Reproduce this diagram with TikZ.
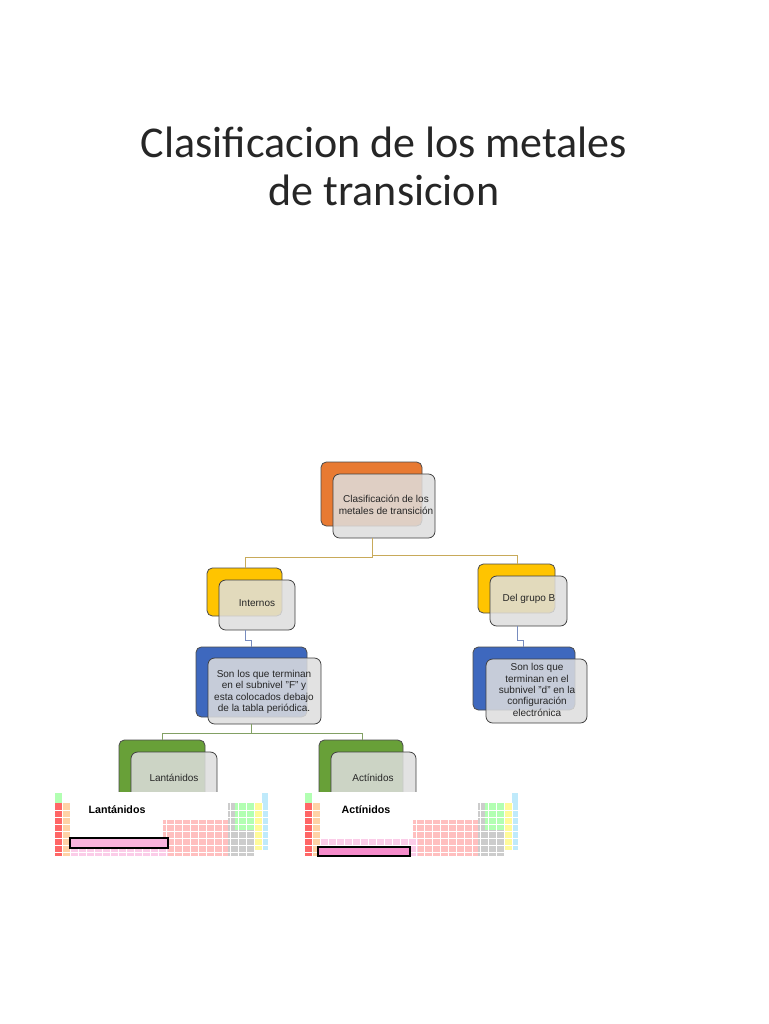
\documentclass[tikz,border=0pt]{standalone}
\usepackage{fontspec}
\setmainfont{Liberation Sans}
\newfontfamily\titlefont{Carlito}
\begin{document}
\begin{tikzpicture}[x=0.75pt,y=-0.75pt]
\definecolor{corange}{RGB}{232,122,50}
\definecolor{cyellow}{RGB}{255,196,0}
\definecolor{cblue}{RGB}{62,104,190}
\definecolor{cgreen}{RGB}{104,160,56}
\definecolor{cfront}{RGB}{222,222,222}
\definecolor{lgold}{RGB}{200,170,90}
\definecolor{lblue}{RGB}{120,140,190}
\definecolor{lgreen}{RGB}{130,160,100}
\tikzset{
 back/.style={rounded corners=4pt,draw=black!70,line width=0.6pt},
 front/.style={rounded corners=5pt,draw=black!75,line width=0.6pt,fill=cfront,fill opacity=0.85,text opacity=1},
 lbl/.style={font=\fontsize{7.5}{8.5}\selectfont,align=center,text=black!85},
 conn/.style={line width=0.7pt}
}
\useasboundingbox[fill=white] (0,0) rectangle (768,1024);
\node[font=\titlefont\fontsize{33}{36}\selectfont,align=center,text=black!85] (title) at (384,166) {Clasificacion de los metales\\de transicion};
% top
\filldraw[back,fill=corange] (321,462) rectangle (422,526);
\filldraw[front] (333,474) rectangle (435,538);
\node[lbl] (top) at (386,505) {Clasificación de los\\metales de transición};
% Internos
\filldraw[back,fill=cyellow] (207,568) rectangle (282,616);
\filldraw[front] (219,580) rectangle (295,630);
\node[lbl] (int) at (257,603) {Internos};
% Del grupo B
\filldraw[back,fill=cyellow] (478,564) rectangle (555,613);
\filldraw[front] (490,576) rectangle (567,626);
\node[lbl] (grb) at (529,599) {Del grupo B};
% blue left
\filldraw[back,fill=cblue] (196,647) rectangle (307,717);
\filldraw[front] (208,658) rectangle (321,724);
\node[lbl] (bl) at (264,692) {Son los que terminan\\en el subnivel ''F'' y\\esta colocados debajo\\de la tabla periódica.};
% blue right
\filldraw[back,fill=cblue] (473,647) rectangle (575,710);
\filldraw[front] (486,659) rectangle (587,723);
\node[lbl] (br) at (537,690) {Son los que\\terminan en el\\subnivel ''d'' en la\\configuración\\electrónica};
% green
\filldraw[back,fill=cgreen] (119,740) rectangle (205,805);
\filldraw[front] (131,752) rectangle (217,815);
\node[lbl] (lan) at (174,778) {Lantánidos};
\filldraw[back,fill=cgreen] (319,740) rectangle (403,805);
\filldraw[front] (331,752) rectangle (416,815);
\node[lbl] (act) at (373,778) {Actínidos};
% connectors
\coordinate (c1) at (372,538);
\draw[conn,lgold] (c1) -- (372,557) -- (245,557) -- (245,568);
\draw[conn,lgold] (372,555) -- (517,555) -- (517,564);
\draw[conn,lblue] (245,630) -- (245,640) -- (251,640) -- (251,647);
\draw[conn,lblue] (517,626) -- (517,640) -- (523,640) -- (523,647);
\draw[conn,lgreen] (251,724) -- (251,733);
\draw[conn,lgreen] (162,740) -- (162,733) -- (362,733) -- (362,740);
% periodic tables
\foreach \dx/\name/\bold in {0/Lantánidos/1,250/Actínidos/2}{
\begin{scope}[xshift=\dx*0.75pt]
\fill[white] (50,792) rectangle (272,860);
\fill[green!30] (55,793) rectangle (62,803);
\fill[red!60] (55,803) rectangle (62,856);
\fill[orange!35] (62,803) rectangle (70,856);
\fill[red!25] (163,820) rectangle (228,856);
\fill[black!20] (228,803) rectangle (255,856);
\fill[green!30] (235,803) rectangle (255,830);
\fill[yellow!40] (255,803) rectangle (262,850);
\fill[cyan!25] (262,793) rectangle (268,850);
\fill[magenta!20] (70,838) rectangle (168,856);
\draw[white,line width=0.3pt,step=0] ;
\foreach \x in {62,70,...,262} \draw[white,line width=0.3pt] (\x,803) -- (\x,856);
\foreach \y in {810,817,...,856} \draw[white,line width=0.3pt] (55,\y) -- (268,\y);
\end{scope}}
\node[font=\bfseries\fontsize{8}{9}\selectfont] (tl) at (117,810) {Lantánidos};
\node[font=\bfseries\fontsize{8}{9}\selectfont] (tr) at (366,810) {Actínidos};
\draw[black,line width=0.8pt,fill=magenta!30] (70,838) rectangle (168,848);
\draw[black,line width=0.8pt,fill=magenta!45] (318,847) rectangle (410,856);
\end{tikzpicture}
\end{document}
